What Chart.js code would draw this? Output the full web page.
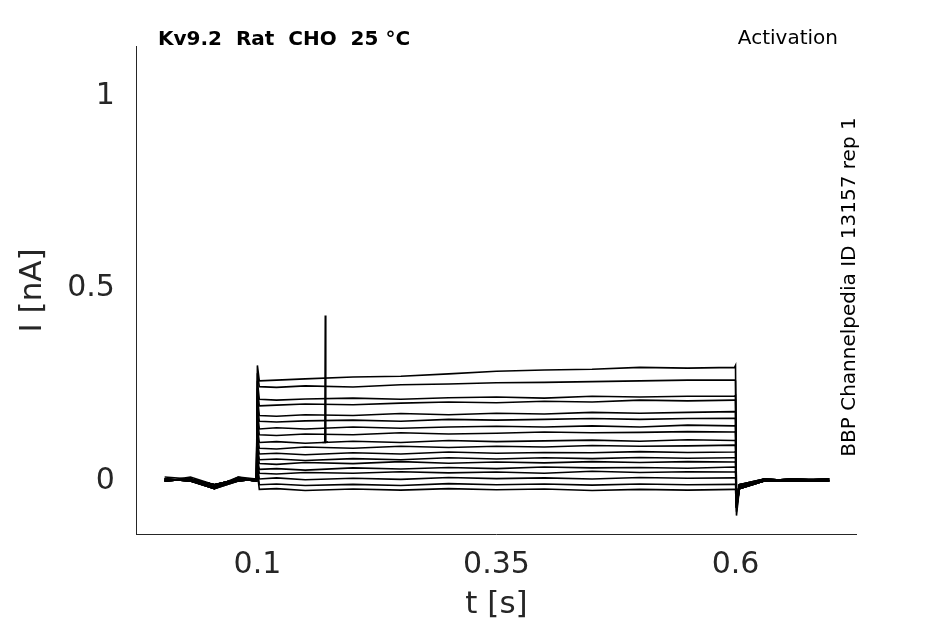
<!DOCTYPE html>
<html><head><meta charset="utf-8">
<script src="https://cdn.jsdelivr.net/npm/chart.js@4"></script>
<style>body{margin:0;background:#fff}#wrap{width:945px;height:624px}</style>
</head><body><div id="wrap"><canvas id="c"></canvas></div>
<script>
// sample times (s) shared by all sweeps
const times = [0.003,0.03,0.055,0.08,0.099,0.1,0.102,0.12,0.15,0.2,0.25,0.3,0.35,0.4,0.45,0.5,0.55,0.599,0.6,0.601,0.604,0.63,0.66,0.698];
// current (nA) per sweep
const sweeps = [
 [0.01,0.005,-0.02,0.01,0.005,0.30,0.26,0.262,0.265,0.27,0.272,0.278,0.285,0.288,0.29,0.295,0.293,0.295,0.30,-0.06,-0.02,0.005,0,0.005],
 [0,0.005,-0.01,0.005,0,0.28,0.245,0.243,0.247,0.244,0.25,0.252,0.255,0.256,0.258,0.26,0.262,0.262,0.26,-0.05,-0.015,0,0.005,0],
 [0.005,0,-0.015,0.01,0,0.26,0.212,0.21,0.213,0.215,0.212,0.216,0.218,0.215,0.22,0.218,0.22,0.22,0.222,-0.05,-0.01,0.005,0,0],
 [0,0.01,-0.01,0,0.005,0.24,0.195,0.197,0.2,0.198,0.202,0.205,0.203,0.207,0.205,0.21,0.208,0.21,0.21,-0.07,-0.02,0,0.005,0.005],
 [0.005,0,-0.02,0.005,0,0.22,0.17,0.168,0.172,0.17,0.175,0.172,0.176,0.174,0.178,0.176,0.178,0.18,0.178,-0.08,-0.02,0,0,0.005],
 [0,0.005,-0.01,0,0.005,0.2,0.155,0.153,0.156,0.158,0.155,0.16,0.158,0.16,0.162,0.16,0.162,0.163,0.16,-0.06,-0.015,0.005,0,0],
 [0.005,0,-0.015,0.005,0,0.18,0.135,0.138,0.135,0.14,0.137,0.14,0.142,0.14,0.143,0.14,0.145,0.143,0.145,-0.09,-0.02,0,0.005,0],
 [0,0.005,-0.01,0.005,0,0.16,0.12,0.118,0.122,0.12,0.125,0.122,0.124,0.127,0.125,0.126,0.128,0.127,0.128,-0.05,-0.01,0,0,0.005],
 [0.005,0,-0.02,0,0.005,0.14,0.1,0.102,0.098,0.103,0.1,0.105,0.102,0.104,0.106,0.103,0.107,0.105,0.106,-0.07,-0.02,0.005,0,0],
 [0,0.005,-0.01,0.005,0,0.12,0.085,0.083,0.088,0.085,0.09,0.087,0.09,0.088,0.092,0.09,0.091,0.093,0.09,-0.06,-0.015,0,0.005,0],
 [0.005,0,-0.015,0,0.005,0.1,0.07,0.072,0.068,0.073,0.07,0.075,0.072,0.074,0.073,0.076,0.074,0.075,0.076,-0.05,-0.01,0.005,0,0.005],
 [0,0.005,-0.01,0.005,0,0.09,0.055,0.057,0.053,0.058,0.055,0.06,0.057,0.06,0.058,0.061,0.059,0.06,0.06,-0.06,-0.015,0,0,0],
 [0.005,0,-0.02,0.005,0,0.08,0.045,0.043,0.048,0.045,0.05,0.046,0.049,0.047,0.05,0.048,0.05,0.049,0.05,-0.07,-0.02,0,0.005,0],
 [0,0.005,-0.01,0,0.005,0.06,0.03,0.032,0.028,0.034,0.031,0.035,0.032,0.036,0.034,0.035,0.033,0.036,0.035,-0.05,-0.01,0.005,0,0.005],
 [0.005,0,-0.015,0.005,0,0.05,0.02,0.018,0.022,0.02,0.024,0.021,0.023,0.02,0.025,0.022,0.024,0.023,0.025,-0.06,-0.015,0,0.005,0],
 [0,0.005,-0.01,0.005,0,0.04,0.005,0.008,0.003,0.007,0.004,0.009,0.006,0.008,0.005,0.009,0.007,0.008,0.008,-0.05,-0.01,0,0,0],
 [0.005,0,-0.02,0,0.005,0.03,-0.01,-0.008,-0.012,-0.009,-0.012,-0.007,-0.01,-0.008,-0.011,-0.008,-0.01,-0.009,-0.008,-0.06,-0.015,0.005,0,0.005],
 [0,0.005,-0.01,0.005,0,0.02,-0.022,-0.02,-0.025,-0.021,-0.024,-0.02,-0.023,-0.021,-0.025,-0.022,-0.024,-0.022,-0.022,-0.07,-0.02,0,0.005,0]
];
// short artefact spike on one sweep
const spikeT = [0.168,0.1705,0.171,0.1715,0.174];
const spikeI = [0.1,0.1,0.43,0.1,0.102];
const xTicks = [0.1, 0.35, 0.6];
const yTicks = [0, 0.5, 1];

const datasets = sweeps.map(s => ({
  data: times.map((t, i) => ({x: t, y: s[i]})),
  borderColor: '#000', borderWidth: 1.6, pointRadius: 0, tension: 0
}));
datasets.push({data: spikeT.map((t, i) => ({x: t, y: spikeI[i]})), borderColor: '#000', borderWidth: 1.6, pointRadius: 0});

const labels = {
  id: 'labels',
  afterDraw(chart) {
    const c = chart.ctx;
    c.save();
    c.fillStyle = '#000';
    c.font = 'bold 20px "DejaVu Sans"';
    c.textBaseline = 'middle';
    c.fillText('Kv9.2  Rat  CHO  25 °C', 158, 40);
    c.font = '20px "DejaVu Sans"';
    c.textAlign = 'right';
    c.fillText('Activation', 838, 39);
    c.translate(850, 287);
    c.rotate(-Math.PI / 2);
    c.textAlign = 'center';
    c.fillText('BBP Channelpedia ID 13157 rep 1', 0, 0);
    c.restore();
  }
};

const tickFont = {size: 30, family: 'DejaVu Sans'};
const titleFont = {size: 31, family: 'DejaVu Sans'};

new Chart(document.getElementById('c'), {
  type: 'line',
  data: {datasets},
  options: {
    responsive: true, maintainAspectRatio: false, animation: false,
    layout: {padding: {top: 46, right: 89, left: 12, bottom: 0}},
    plugins: {legend: {display: false}, tooltip: {enabled: false}},
    scales: {
      x: {
        type: 'linear', min: -0.026, max: 0.726,
        afterBuildTicks: a => { a.ticks = xTicks.map(v => ({value: v})); },
        ticks: {color: '#262626', font: tickFont, padding: 4, callback: v => String(v)},
        grid: {display: false},
        border: {color: '#262626'},
        title: {display: true, text: 't [s]', color: '#262626', font: titleFont, padding: 0}
      },
      y: {
        min: -0.14, max: 1.13,
        afterBuildTicks: a => { a.ticks = yTicks.map(v => ({value: v})); },
        ticks: {color: '#262626', font: tickFont, padding: 14, callback: v => String(v)},
        grid: {display: false},
        border: {color: '#262626'},
        title: {display: true, text: 'I [nA]', color: '#262626', font: titleFont, padding: 2}
      }
    }
  },
  plugins: [labels]
});
</script></body></html>
